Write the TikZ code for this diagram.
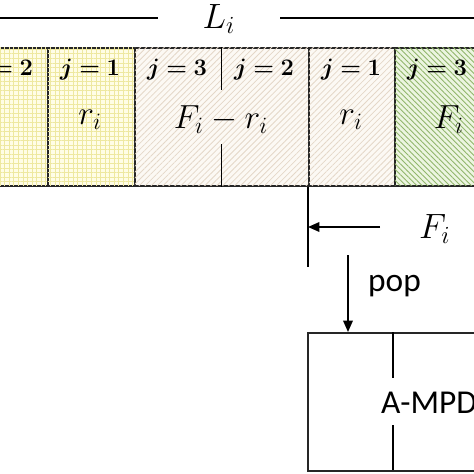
\RequirePackage{fix-cm}
\documentclass[tikz,border=0pt]{standalone}
\usepackage{amsmath}
\usepackage{bm}
\usepackage{fontspec}
\setsansfont{Carlito}
\usetikzlibrary{arrows.meta, positioning, patterns.meta}
\definecolor{gridyellow}{RGB}{238,232,160}
\definecolor{bgyellow}{RGB}{255,253,230}
\definecolor{hatchbeige}{RGB}{228,215,200}
\definecolor{bgbeige}{RGB}{252,249,244}
\definecolor{hatchgreen}{RGB}{145,182,108}
\definecolor{bggreen}{RGB}{236,245,224}

\begin{document}
\begin{tikzpicture}[
    x=0.02cm, y=-0.02cm,
    cell/.style={draw=black!85, line width=0.9pt, anchor=north west, minimum height=2.76cm, inner sep=0pt},
    narrow/.style={cell, minimum width=1.74cm},
    wide/.style={cell, minimum width=3.48cm},
    gridcell/.style={fill=bgyellow, postaction={pattern={Hatch[angle=0,distance=2.6pt,line width=0.35pt]}, pattern color=gridyellow}},
    beigecell/.style={fill=bgbeige, postaction={pattern={Lines[angle=45,distance=2.4pt,line width=0.45pt]}, pattern color=hatchbeige}},
    greencell/.style={fill=bggreen, postaction={pattern={Lines[angle=-45,distance=2.2pt,line width=0.5pt]}, pattern color=hatchgreen}},
    jlab/.style={font=\fontsize{13.5}{15}\selectfont},
    vlab/.style={font=\fontsize{19}{21}\selectfont},
    arrow/.style={-{Triangle[length=6.5pt,width=5.5pt]}, line width=0.8pt},
    thin/.style={line width=0.8pt}
]
\useasboundingbox (0,0) rectangle (474,474);
\clip (0,0) rectangle (474,474);

% L_i span
\node[minimum width=2.44cm, inner ysep=0pt, font=\fontsize{20}{22}\selectfont] (Li) at (219,19) {$L_i$};
\coordinate (lleft) at (0,18);
\coordinate (lright) at (474,18);
\draw[thin] (lleft) -- (lleft -| Li.west);
\draw[thin] (lright -| Li.east) -- (lright);

% Queue cells
\node[narrow, gridcell] (cellA) at (-40,47) {};
\node[narrow, gridcell] (cellB) at (47,47) {};
\node[wide, beigecell] (cellC) at (134,47) {};
\node[narrow, beigecell] (cellD) at (308,47) {};
\node[wide, greencell] (cellE) at (394,47) {};

% j labels
\foreach \x/\j in {3/2, 90/1, 177/3, 264/2, 351/1, 437/3, 524/2} {
    \node[jlab] (j\x) at (\x,70) {$\bm{j=\j}$};
}

% cell values
\node[vlab] (rB) at (90,120) {$r_i$};
\node[vlab] (rC) at (221,120) {$F_i-r_i$};
\node[vlab] (rD) at (351,120) {$r_i$};
\node[vlab] (rE) at (481,120) {$F_i-r_i$};

% split marks in the wide cells
\foreach \c in {cellC, cellE} {
    \draw[thin] (\c.north) -- ++(0,43);
    \draw[thin] (\c.south) -- ++(0,-43);
}

% F_i pointer
\coordinate (mark) at (308,267);
\draw[thin] (cellD.south west) -- (mark);
\coordinate (fstart) at (380,227);
\draw[arrow] (fstart) -- (fstart -| mark);
\node[font=\fontsize{20}{22}\selectfont, anchor=west] (Fi) at (413,229) {$F_i$};

% pop into A-MPD
\node[draw=black!85, line width=0.9pt, anchor=north west, minimum width=5.06cm, minimum height=2.76cm, inner sep=0pt] (ampd) at (307,332) {};
\node[font=\sffamily\fontsize{19}{21}\selectfont] (ampdlab) at (429,403) {A-MPD};
\draw[thin] (393,332) -- (393,378);
\draw[thin] (393,425) -- (393,470);
\coordinate (popstart) at (348,255);
\draw[arrow] (popstart) -- (popstart |- ampd.north);
\node[font=\sffamily\fontsize{19}{21}\selectfont, anchor=west] (pop) at (362,286) {pop};

\end{tikzpicture}
\end{document}
